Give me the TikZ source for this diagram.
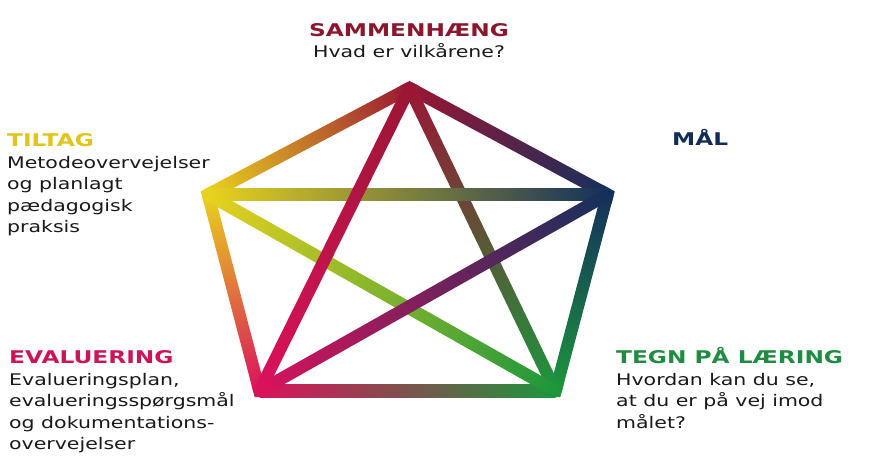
\documentclass[tikz,border=0pt]{standalone}
\usepackage{fontspec}
\setmainfont{DejaVu Sans}[FakeStretch=1.28]
\newfontfamily\headfont{DejaVu Sans}[FakeStretch=1.33]
\usetikzlibrary{calc,positioning}

\definecolor{colA}{RGB}{155,22,52}
\definecolor{colB}{RGB}{20,48,92}
\definecolor{colC}{RGB}{28,150,60}
\definecolor{colD}{RGB}{218,18,92}
\definecolor{colE}{RGB}{232,210,30}
\definecolor{headA}{RGB}{140,22,45}
\definecolor{headB}{RGB}{15,45,85}
\definecolor{headC}{RGB}{30,140,65}
\definecolor{headD}{RGB}{205,20,90}
\definecolor{headE}{RGB}{226,196,30}
\definecolor{bodygray}{RGB}{25,25,25}

% gradient bar from #1 to #2, colours #3 -> #4
\newcommand\gradedge[4]{%
  \path let \p1=($(#2)-(#1)$) in \pgfextra{%
    \pgfmathsetmacro\segang{atan2(\y1,\x1)}%
    \pgfmathsetmacro\seglen{veclen(\x1,\y1)}%
    \global\let\segang\segang\global\let\seglen\seglen};
  \begin{scope}[transform canvas={shift={(#1)},rotate=\segang}]
    \shade[left color=#3,right color=#4] (0pt,-6.2pt) rectangle (\seglen pt,6.2pt);
  \end{scope}}
% mitred corner at #1 between #2 and #3
\newcommand\corner[4]{%
  \begin{scope}
    \clip (#1) circle (10pt);
    \draw[line width=12.4pt,#4] (#2) -- (#1) -- (#3);
  \end{scope}}

\begin{document}
\begin{tikzpicture}[x=1pt,y=-1pt,
    head/.style={font=\headfont\bfseries\fontsize{17.5}{21}\selectfont,inner sep=0pt,anchor=base west},
    body/.style={font=\fontsize{16}{21.5}\selectfont,align=left,inner sep=0pt,text=bodygray},
    node distance=22pt]
  \useasboundingbox[fill=white] (0,0) rectangle (869,467);
  \coordinate (a) at (409.5,88);
  \coordinate (b) at (607.5,194.5);
  \coordinate (c) at (555.5,391);
  \coordinate (d) at (259.5,391);
  \coordinate (e) at (208,194.5);
  % corners
  \corner{a}{e}{b}{colA}
  \corner{b}{a}{c}{colB}
  \corner{c}{b}{d}{colC}
  \corner{d}{c}{e}{colD}
  \corner{e}{d}{a}{colE}
  % pentagon
  \gradedge{a}{b}{colA}{colB}
  \gradedge{b}{c}{colB}{colC}
  \gradedge{c}{d}{colC}{colD}
  \gradedge{d}{e}{colD}{colE}
  \gradedge{e}{a}{colE}{colA}
  % star
  \gradedge{a}{c}{colA}{colC}
  \gradedge{e}{c}{colE}{colC}
  \gradedge{e}{b}{colE}{colB}
  \gradedge{b}{d}{colB}{colD}
  \gradedge{a}{d}{colA}{colD}
  % labels
  \node[head,anchor=base,text=headA] (texta) at (409,36) {SAMMENHÆNG};
  \node[body] (textaa) [below=21pt of texta.base,anchor=base] {Hvad er vilkårene?};
  \node[head,text=headB] (textb) at (672,145) {MÅL};
  \node[head,text=headC] (textc) at (616,363) {TEGN PÅ LÆRING};
  \node[body] (textcc) [below=65pt of textc.base west,anchor=base west]
    {Hvordan kan du se,\\at du er på vej imod\\målet?};
  \node[head,text=headD] (textd) at (9,363) {EVALUERING};
  \node[body] (textdd) [below=86.5pt of textd.base west,anchor=base west]
    {Evalueringsplan,\\evalueringsspørgsmål\\og dokumentations-\\overvejelser};
  \node[head,text=headE] (texte) at (7,146) {TILTAG};
  \node[body] (textee) [below=86.5pt of texte.base west,anchor=base west]
    {Metodeovervejelser\\og planlagt\\pædagogisk\\praksis};
\end{tikzpicture}
\end{document}
